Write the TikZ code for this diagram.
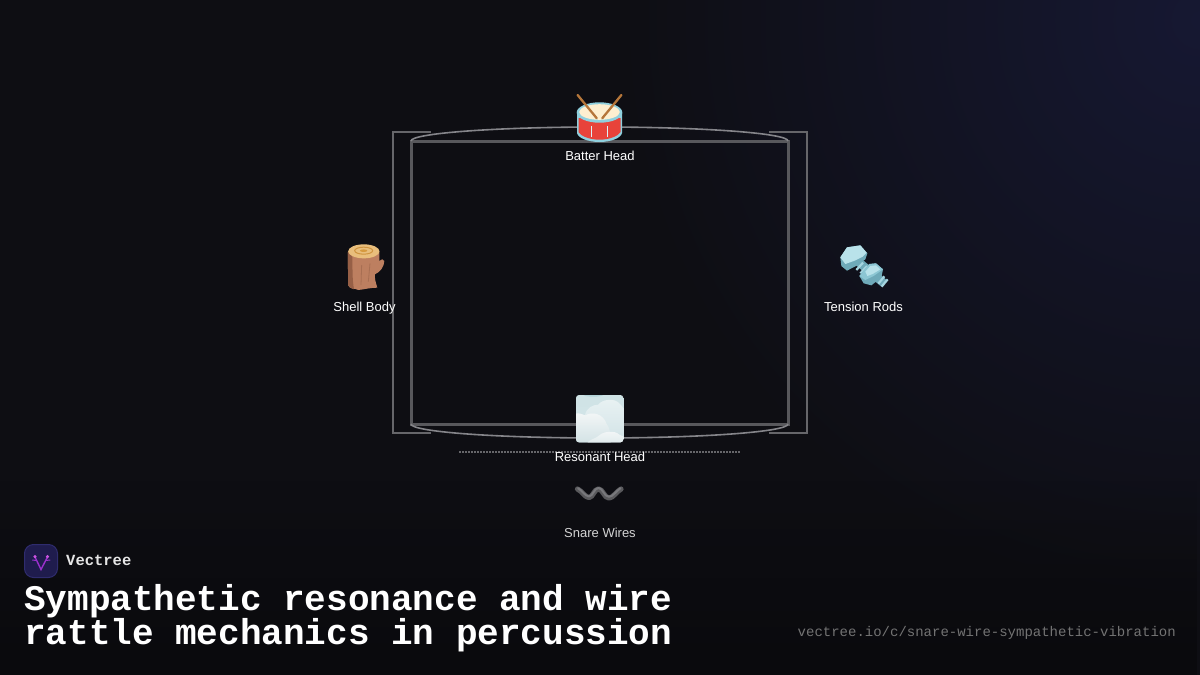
\documentclass[tikz,border=0pt]{standalone}
\usepackage{fontspec}
\setmainfont{Liberation Sans}
\setmonofont{Liberation Mono}
\usetikzlibrary{fadings,shadings}
\definecolor{bgbase}{HTML}{0E0E13}
\definecolor{bgblue}{HTML}{161832}
\definecolor{bgdark}{HTML}{0A0A0D}
\definecolor{rimc}{HTML}{58585C}
\definecolor{curvec}{HTML}{85858A}
\definecolor{bracketc}{HTML}{66666A}
\definecolor{drumred}{HTML}{E8433A}
\definecolor{drumblue}{HTML}{8FD0DE}
\definecolor{drumcream}{HTML}{FDEFD0}
\definecolor{stickc}{HTML}{B5763A}
\definecolor{logmid}{HTML}{BD7F60}
\definecolor{logdark}{HTML}{965F46}
\definecolor{loggrain}{HTML}{A86F53}
\definecolor{logtop}{HTML}{E9BE7C}
\definecolor{logring}{HTML}{CF9440}
\definecolor{logcore}{HTML}{D69A3F}
\definecolor{boltdark}{HTML}{6FAAB9}
\definecolor{boltthread}{HTML}{A5D5E0}
\definecolor{boltmid}{HTML}{8CC6D3}
\definecolor{boltlight}{HTML}{B9E2EA}
\definecolor{cloudtop}{HTML}{CFE3E6}
\definecolor{cloudbot}{HTML}{D5E5E8}
\definecolor{cloudback}{HTML}{E9F2F3}
\definecolor{cloudbackb}{HTML}{D6E6E9}
\definecolor{cloudlow}{HTML}{D2E2E5}
\definecolor{cloudfront}{HTML}{F4F7F7}
\definecolor{cloudlow2}{HTML}{E0EBED}
\definecolor{cloudedge}{HTML}{B3D3D8}
\definecolor{wavedark}{HTML}{59595C}
\definecolor{wavelight}{HTML}{78787C}
\definecolor{logofill}{HTML}{1F1C4D}
\definecolor{logoedge}{HTML}{2F2C6E}
\definecolor{logostem}{HTML}{9A30CC}
\definecolor{logodot}{HTML}{CB55E0}
\tikzset{
  x=1pt,y=-1pt,
  lab/.style={font=\fontsize{13}{15}\selectfont,text=white,inner sep=0pt,anchor=base},
  rim/.style={draw=rimc,line width=3pt},
  curve/.style={draw=curvec,line width=1.6pt},
  bracket/.style={draw=bracketc,line width=1.4pt},
  title/.style={font=\fontsize{36}{31.8}\selectfont\ttfamily\bfseries,text=white,align=left,inner sep=0pt,anchor=north west},
}
\tikzfading[name=fadeup,top color=transparent!100,bottom color=transparent!0]
\begin{document}
\begin{tikzpicture}
\useasboundingbox (0,0) rectangle (1200,675);
\fill[bgbase] (0,0) rectangle (1200,675);
\begin{scope}
  \clip (0,0) rectangle (1200,675);
  \shade[inner color=bgblue,outer color=bgbase] (1200,20) circle[radius=580];
  \fill[bgdark,path fading=fadeup] (0,480) rectangle (1200,675);
\end{scope}

% drum body
\draw[rim] (411,141) rectangle (788,424);
\draw[curve] (411,141) arc[start angle=180,end angle=0,x radius=188.5,y radius=-14];
\draw[curve] (411,424) arc[start angle=180,end angle=360,x radius=188.5,y radius=-14];
\draw[bracket] (431,132) -- (393,132) -- (393,433) -- (431,433);
\draw[bracket] (769,132) -- (807,132) -- (807,433) -- (769,433);
\draw[draw=bracketc,line width=1.6pt,dash pattern=on 1.5pt off 1.5pt] (459,452) -- (740,452);

% drum icon
\fill[drumblue] (577,113) -- (577,133) .. controls (578,138) and (588,142) .. (599.5,142) .. controls (611,142) and (621,138) .. (622,133) -- (622,113) -- cycle;
\fill[drumred] (578.5,118) -- (578.5,132) .. controls (580,135.5) and (589,139.7) .. (599.5,139.7) .. controls (610,139.7) and (619,135.5) .. (620.5,132) -- (620.5,118) -- cycle;
\foreach \bx in {591,607}{\fill[white!70!drumblue] (\bx,126) rectangle (\bx+1.4,137);}
\fill[drumblue] (599.5,112.5) ellipse[x radius=22.8,y radius=10.2];
\fill[drumcream] (599.5,112) ellipse[x radius=20.3,y radius=7.8];
\draw[stickc,line width=2.3pt,line cap=round] (577.6,95) -- (596.7,118.2);
\draw[stickc,line width=2.3pt,line cap=round] (621.4,95) -- (602.3,118.2);

% log icon (scaled from a 3x grid)
\begin{scope}[shift={(320,235)},scale=1/3]
  \fill[logmid] (84,50) .. controls (82,85) and (86,125) .. (84,150) .. controls (90,165) and (102,158) .. (115,165) .. controls (135,163) and (150,158) .. (172,158) .. controls (168,145) and (163,130) .. (165,118) .. controls (182,110) and (192,95) .. (193,78) .. controls (190,70) and (184,72) .. (178,78) -- (178,50) -- cycle;
  \fill[logdark] (84,50) .. controls (82,85) and (86,125) .. (84,150) .. controls (88,160) and (95,158) .. (102,163) .. controls (96,130) and (98,95) .. (97,65) -- cycle;
  \draw[loggrain,line width=.8pt] (125,90) -- (123,150) (150,85) -- (145,140);
  \fill[logtop] (131.5,49) ellipse[x radius=47,y radius=21];
  \draw[logring,line width=1pt] (131,47) ellipse[x radius=27,y radius=10.5];
  \fill[logcore] (131,47) ellipse[x radius=11,y radius=4];
\end{scope}

% bolt icon (scaled from a 3x grid)
\begin{scope}[shift={(832,240)},scale=1/3]
  \draw[boltdark,line width=8.5pt] (75,62) -- (156,130);
  \foreach \a/\b/\c/\d in {73/90/93/68,85/100/105/78,97/110/117/88,139/131/157/109,149/140/167/118}
    {\draw[boltthread,line width=2.2pt] (\a,\b) -- (\c,\d);}
  \fill[boltdark] (25,52) -- (45,22) -- (85,16) -- (106,40) -- (100,58) -- (72,78) -- (45,92) -- (28,78) -- cycle;
  \fill[boltlight] (25,52) -- (45,22) -- (85,16) -- (104,38) -- (92,50) -- (68,62) -- (40,72) -- cycle;
  \fill[boltdark] (82,108) -- (112,72) -- (132,70) -- (153,88) -- (148,113) -- (118,136) -- (95,130) -- cycle;
  \fill[boltmid] (82,108) -- (112,72) -- (132,70) -- (153,88) -- (125,108) -- (100,120) -- cycle;
  \fill[boltlight] (100,95) -- (115,78) -- (132,76) -- (145,88) -- (122,102) -- (106,108) -- cycle;
\end{scope}

% cloud icon (scaled from a 3x grid)
\begin{scope}[shift={(570,390)},scale=1/3]
  \clip[rounded corners=3pt] (18,15) rectangle (160,157);
  \shade[top color=cloudtop,bottom color=cloudbot] (18,15) rectangle (160,157);
  \fill[cloudedge] (70,14) ellipse[x radius=30,y radius=6];
  \shade[top color=cloudback,bottom color=cloudbackb] (45,75) .. controls (50,52) and (70,44) .. (85,44) .. controls (95,28) and (135,22) .. (150,42) .. controls (158,48) and (164,60) .. (165,75) -- (165,130) -- (45,130) -- cycle;
  \shade[top color=cloudfront,bottom color=cloudlow] (14,72) .. controls (25,66) and (38,74) .. (46,76) .. controls (65,64) and (100,70) .. (110,102) .. controls (118,112) and (122,125) .. (122,160) -- (14,160) -- cycle;
  \shade[top color=cloudfront,bottom color=cloudlow2] (50,160) .. controls (58,148) and (78,146) .. (88,136) .. controls (100,124) and (135,120) .. (148,134) .. controls (156,137) and (162,140) .. (165,145) -- (165,160) -- cycle;
\end{scope}

% wave icon
\draw[wavedark,line width=5.2pt,line cap=round,line join=round]
  (577.5,489) .. controls (582,491) and (585,497.5) .. (589,497.5) .. controls (593,497.5) and (594,489) .. (598.5,489) .. controls (603,489) and (604,498) .. (609,498) .. controls (613,498) and (617,491) .. (621,489);
\draw[wavelight,line width=2pt,line cap=round,line join=round]
  (578,488.2) .. controls (582,490) and (585,496.4) .. (589,496.4) .. controls (593,496.4) and (594,488) .. (598.5,488) .. controls (603,488) and (604,496.8) .. (609,496.8) .. controls (613,496.8) and (617,490) .. (620.5,488.2);

% logo
\draw[fill=logofill,draw=logoedge,line width=1pt,rounded corners=9pt] (24.5,544.5) rectangle (57.5,577.5);
\draw[logostem,line width=1.4pt,line cap=round] (35,557) -- (41,569.5) -- (47.5,557);
\draw[logostem,line width=1pt,line cap=round] (32.5,560) -- (36.5,560.5) (50,560) -- (45.7,560.5);
\fill[logodot] (35,556.6) circle[radius=1.7] (47.5,556.6) circle[radius=1.7];

% labels
\node[lab] (batter) at (600,160.3) {Batter Head};
\node[lab] (shell) at (364.5,311) {Shell Body};
\node[lab] (tension) at (863.5,311) {Tension Rods};
\node[lab] (resonant) at (600,461.3) {Resonant Head};
\node[lab,text=white!83!black] (snare) at (600,537.3) {Snare Wires};
\node[font=\fontsize{15.5}{18}\selectfont\ttfamily\bfseries,text=white!90!black,inner sep=0pt,anchor=base west] (brand) at (66,565) {Vectree};
\node[title] (headline) at (24,584.3) {Sympathetic resonance and wire\\[-1pt]rattle mechanics in percussion};
\node[font=\fontsize{14}{16}\selectfont\ttfamily,text=white!45!black,inner sep=0pt,anchor=east] (url) at (1176,633.3) {vectree.io/c/snare-wire-sympathetic-vibration};
\end{tikzpicture}
\end{document}
